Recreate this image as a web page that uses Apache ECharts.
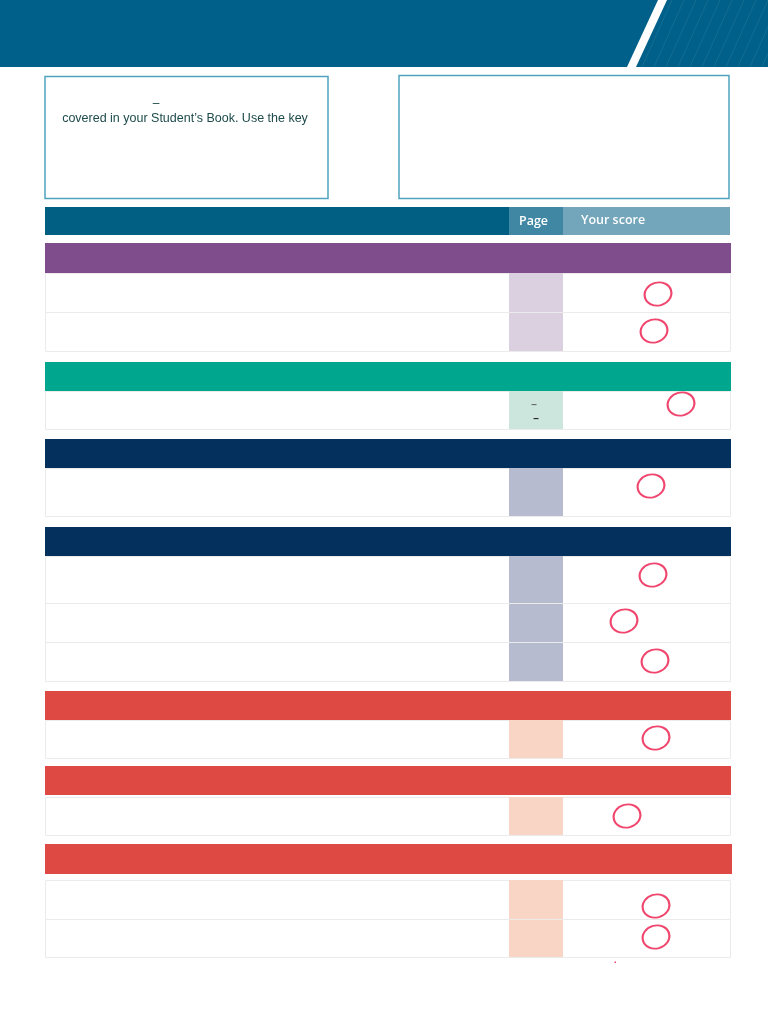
<!DOCTYPE html>
<html>
<head>
<meta charset="utf-8">
<title>Progress check</title>
<script src="https://cdn.jsdelivr.net/npm/echarts@6/dist/echarts.min.js"></script>
<style>
html, body { margin: 0; padding: 0; background: #fff; }
#main { width: 768px; height: 1024px; }
</style>
</head>
<body>
<div id="main"></div>
<script>
// circled scores: x along the score column, y down the page
var scoreX = [658, 654, 681, 651, 653, 624, 655, 656, 627, 656, 656];
var scoreY = [294, 331, 404, 486, 575, 621, 661, 738, 816, 906, 937];

// coloured section bands
var bandTop = [243, 362, 439, 527, 691, 766, 844];
var bandBottom = [273, 391, 468, 556, 720, 795, 874];
var bandColor = ['#804d8c', '#00a78e', '#03305c', '#03305c', '#de4a43', '#de4a43', '#de4a43'];

// table rows below the bands
var rowTop = [273, 312, 391, 468, 556, 603, 642, 720, 797, 880, 919];
var rowBottom = [312, 351, 429, 516, 603, 642, 681, 758, 835, 919, 957];
var rowCell = ['#dbd0df', '#dbd0df', '#cde6dd', '#b6bbcf', '#b6bbcf', '#b6bbcf', '#b6bbcf', '#f8d5c4', '#f8d5c4', '#f8d5c4', '#f8d5c4'];

// text on the page
var labelText = ['–', 'covered in your Student’s Book. Use the key', 'Page', 'Your score', '–', '–'];

var W = 768, H = 1024;
var TABLE_L = 45, TABLE_R = 731, PAGE_L = 509, PAGE_R = 563;
var BLUE = '#006089', BOX = '#4fa3bf';

function rect(api, x0, y0, x1, y1, style) {
    var a = api.coord([x0, y0]), b = api.coord([x1, y1]);
    return { type: 'rect', shape: { x: a[0], y: a[1], width: b[0] - a[0], height: b[1] - a[1] }, style: style };
}
function poly(api, pts, fill) {
    return { type: 'polygon', shape: { points: pts.map(function (p) { return api.coord(p); }) }, style: { fill: fill } };
}
function line(api, x0, y0, x1, y1, stroke, w) {
    var a = api.coord([x0, y0]), b = api.coord([x1, y1]);
    return { type: 'line', shape: { x1: a[0], y1: a[1], x2: b[0], y2: b[1] }, style: { stroke: stroke, lineWidth: w } };
}
function text(api, s, x, y, align, font, fill) {
    var a = api.coord([x, y]);
    return { type: 'text', x: a[0], y: a[1], style: { text: s, font: font, fill: fill, textAlign: align, textVerticalAlign: 'middle' } };
}

function drawPage(params, api) {
    var kids = [];
    // top banner
    kids.push(rect(api, 0, 0, W, 67, { fill: BLUE }));
    for (var k = 0; k < 11; k++) {
        kids.push(line(api, 642 + k * 12, 67, 672 + k * 12, 0, 'rgba(255,255,255,0.14)', 0.6));
    }
    kids.push(poly(api, [[658, 0], [667, 0], [636, 67], [627, 67]], '#fff'));

    // two intro boxes
    kids.push(rect(api, 45, 76.5, 328, 198.5, { fill: '#fff', stroke: BOX, lineWidth: 1.5 }));
    kids.push(rect(api, 399, 75.5, 729, 198.5, { fill: '#fff', stroke: BOX, lineWidth: 1.5 }));
    kids.push(text(api, labelText[0], 156, 103.5, 'center', '12px "Liberation Sans"', '#1d4a4a'));
    kids.push(text(api, labelText[1], 185, 118.5, 'center', '12.5px "Liberation Sans"', '#1d4a4a'));

    // table head
    kids.push(rect(api, TABLE_L, 207, PAGE_L, 235, { fill: '#005f83' }));
    kids.push(rect(api, PAGE_L, 207, PAGE_R, 235, { fill: '#3f87a3' }));
    kids.push(rect(api, PAGE_R, 207, 730, 235, { fill: '#74a6bb' }));
    kids.push(text(api, labelText[2], 533.5, 221, 'center', '600 12.5px "Open Sans"', '#fff'));
    kids.push(text(api, labelText[3], 581, 220, 'left', '600 12.5px "Open Sans"', '#fff'));

    // rows, strokes on the half pixel so they stay one pixel wide
    rowTop.forEach(function (t, i) {
        var b = rowBottom[i];
        kids.push(rect(api, TABLE_L + 0.5, t + 0.5, TABLE_R - 0.5, b + 0.5, { fill: '#fff', stroke: '#ebebeb', lineWidth: 1 }));
    });
    rowTop.forEach(function (t, i) {
        // faint gap between page cells of the same block
        var joined = i > 0 && rowBottom[i - 1] === t;
        kids.push(rect(api, PAGE_L, joined ? t + 1 : t, PAGE_R, rowBottom[i], { fill: rowCell[i] }));
    });
    // dashes in the green page cell
    kids.push(text(api, labelText[4], 534, 405, 'center', 'bold 10px "Liberation Sans"', '#666'));
    kids.push(text(api, labelText[5], 536, 419, 'center', 'bold 10px "Liberation Sans"', '#222'));

    // bands
    bandTop.forEach(function (t, i) {
        var right = i === 6 ? TABLE_R + 1 : TABLE_R;
        kids.push(rect(api, TABLE_L, t, right, bandBottom[i], { fill: bandColor[i] }));
    });
    // stray pen mark under the table
    kids.push(rect(api, 614.5, 961.5, 616, 963, { fill: '#f0466e' }));
    return { type: 'group', children: kids };
}

var myChart = echarts.init(document.getElementById('main'));
var option = {
    animation: false,
    backgroundColor: '#fff',
    grid: { left: 0, right: 0, top: 0, bottom: 0 },
    xAxis: { type: 'value', min: 0, max: W, show: false },
    yAxis: { type: 'value', min: 0, max: H, inverse: true, show: false },
    series: [
        {
            type: 'custom',
            silent: true,
            renderItem: drawPage,
            data: [[0, 0]],
            clip: false,
            z: 1
        },
        {
            type: 'scatter',
            silent: true,
            symbol: 'circle',
            symbolSize: [27, 23],
            symbolRotate: 15,
            itemStyle: { color: 'rgba(255,255,255,0)', borderColor: '#f0466e', borderWidth: 2, opacity: 1 },
            data: scoreX.map(function (x, i) { return [x, scoreY[i]]; }),
            z: 5
        }
    ]
};
myChart.setOption(option, true);
</script>
</body>
</html>
